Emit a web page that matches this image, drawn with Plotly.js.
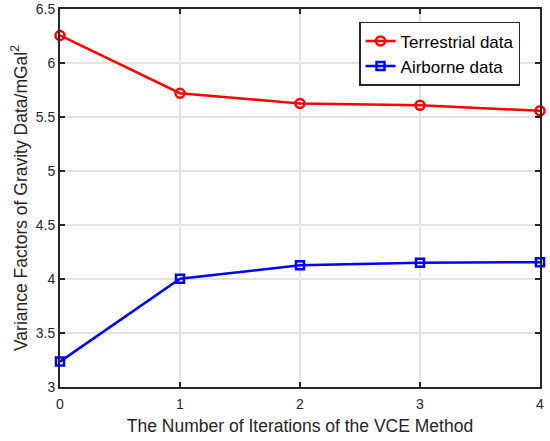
<!DOCTYPE html>
<html><head><meta charset="utf-8">
<script src="https://cdn.plot.ly/plotly-3.0.1.min.js"></script>
<style>html,body{margin:0;padding:0;background:#fff}#c{width:550px;height:441px}</style>
</head><body><div id="c"></div>
<script>
var iterations = [0, 1, 2, 3, 4];
var terrestrial = [6.255, 5.72, 5.625, 5.608, 5.557];
var airborne = [3.235, 4.003, 4.127, 4.151, 4.155];
var seriesNames = ["Terrestrial data", "Airborne data"];
var xTicks = [0, 1, 2, 3, 4];
var yTicks = [3, 3.5, 4, 4.5, 5, 5.5, 6, 6.5];
var yTickText = ["3", "3.5", "4", "4.5", "5", "5.5", "6", "6.5"];

var traces = [
  {x: iterations, y: terrestrial, name: seriesNames[0], type: 'scatter', mode: 'lines+markers',
   line: {color: '#ff0000', width: 2.5},
   marker: {symbol: 'circle-open', size: 9, color: '#ff0000', line: {width: 2.5, color: '#ff0000'}},
   cliponaxis: false},
  {x: iterations, y: airborne, name: seriesNames[1], type: 'scatter', mode: 'lines+markers',
   line: {color: '#0000ff', width: 2.5},
   marker: {symbol: 'square-open', size: 8, color: '#0000ff', line: {width: 2.5, color: '#0000ff'}},
   cliponaxis: false}
];

var FONT = 'Liberation Sans, Arial, sans-serif';
var axisCommon = {
  showline: true, linecolor: '#262626', linewidth: 2, mirror: 'ticks',
  ticks: 'inside', ticklen: 5, tickwidth: 2, tickcolor: '#262626',
  showgrid: true, gridcolor: '#e3e3e3', gridwidth: 2, zeroline: false,
  tickfont: {family: FONT, size: 14, color: '#262626'}
};

var layout = {
  width: 550, height: 441,
  margin: {l: 60, r: 10, t: 9, b: 54},
  paper_bgcolor: '#ffffff', plot_bgcolor: '#ffffff',
  font: {family: FONT, color: '#262626'},
  showlegend: true,
  legend: {x: 0.623, y: 0.966, xanchor: 'left', yanchor: 'top',
    bgcolor: '#ffffff', bordercolor: '#262626', borderwidth: 1.5,
    font: {family: FONT, size: 17, color: '#000000'},
    tracegroupgap: 0, itemwidth: 30},
  xaxis: Object.assign({}, axisCommon, {
    range: [0, 4], tickvals: xTicks, ticktext: xTicks.map(String),
    ticklabelstandoff: 3,
    title: {text: 'The Number of Iterations of the VCE Method', standoff: 9,
      font: {family: FONT, size: 17.5, color: '#262626'}}
  }),
  yaxis: Object.assign({}, axisCommon, {
    range: [3, 6.5], tickvals: yTicks, ticktext: yTickText,
    title: {text: 'Variance Factors of Gravity Data/mGal<sup>2</sup>', standoff: 4,
      font: {family: FONT, size: 17.5, color: '#262626'}}
  })
};

Plotly.newPlot('c', traces, layout, {displayModeBar: false, staticPlot: true});
</script></body></html>
